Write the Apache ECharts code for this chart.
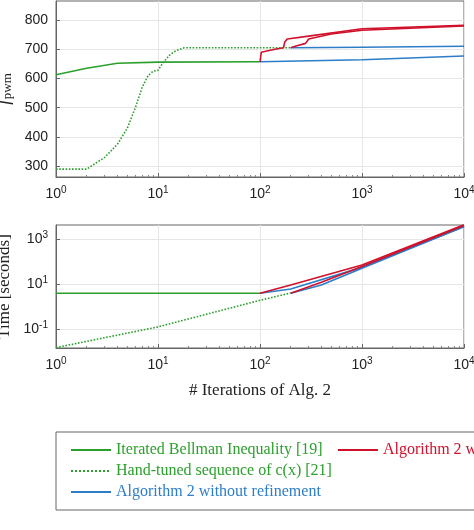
<!DOCTYPE html>
<html><head><meta charset="utf-8">
<script src="https://cdn.jsdelivr.net/npm/echarts@6/dist/echarts.min.js"></script>
<style>html,body{margin:0;padding:0;background:#fff}#c{width:474px;height:530px}</style>
</head><body><div id="c"></div>
<script>
// f_pwm per iteration
var fIterated = [[1, 613], [2, 635], [4, 652], [10, 656], [100, 657]];
var fHand = [[1, 290], [2, 290], [3, 330], [4, 375], [5, 430], [6, 500], [7, 570], [8, 610], [9, 625], [10, 628], [11, 650], [13, 680], [15, 695], [18, 705], [200, 705]];
var fBlueA = [[100, 657], [1000, 664], [10000, 677]];
var fBlueB = [[200, 705], [1000, 707], [10000, 710]];
var fRedA = [[100, 657], [103, 690], [120, 695], [140, 700], [170, 705], [175, 725], [185, 735], [300, 745], [1000, 770], [10000, 782]];
var fRedB = [[200, 705], [230, 712], [280, 720], [300, 735], [500, 752], [1000, 765], [10000, 780]];
// time per iteration
var tIterated = [[1, 3.9], [100, 3.9]];
var tHand = [[1, 0.015], [10, 0.125], [100, 1.9], [200, 4]];
var tBlueA = [[100, 3.9], [200, 6], [1000, 55], [10000, 3500]];
var tBlueB = [[200, 3.9], [400, 9], [1000, 50], [10000, 3600]];
var tRedA = [[100, 3.9], [200, 9], [1000, 70], [10000, 4300]];
var tRedB = [[200, 3.9], [400, 12], [1000, 60], [10000, 4000]];
var names = ['Iterated Bellman Inequality [19]', 'Hand-tuned sequence of c(x) [21]', 'Algorithm 2 without refinement', 'Algorithm 2 with refinement'];
var green = '#2ca02c', blue = '#2d7dc8', red = '#d0112b';

var sup = function (v) { return '10{s|' + Math.round(Math.log10(v)) + '}'; };
var tickFont = { fontFamily: 'Liberation Sans', fontSize: 14, color: '#222' };
var supRich = { s: { fontFamily: 'Liberation Sans', fontSize: 10, color: '#222', verticalAlign: 'top', padding: [0, 0, 8, 0] } };

function xAxis(i) {
  return {
    type: 'log', gridIndex: i, min: 1, max: 10000, logBase: 10,
    axisLine: { lineStyle: { color: '#666' } },
    axisTick: { inside: true, length: 4, lineStyle: { color: '#666' } },
    minorTick: { show: true, splitNumber: 9, length: 2, lineStyle: { color: '#888' } },
    splitLine: { show: true, lineStyle: { color: '#e6e6e6' } },
    axisLabel: Object.assign({ formatter: sup, margin: 8, rich: supRich }, tickFont),
    name: i === 1 ? '# Iterations of Alg. 2' : '', nameLocation: 'middle', nameGap: 34,
    nameTextStyle: { fontFamily: 'Liberation Serif', fontSize: 17, color: '#222' }
  };
}

function line(name, data, color, xi, dotted) {
  return {
    name: name, type: 'line', data: data, xAxisIndex: xi, yAxisIndex: xi,
    showSymbol: false, symbol: 'none', animation: false,
    lineStyle: { color: color, width: 1.6, type: dotted ? 'dotted' : 'solid' },
    itemStyle: { color: color }
  };
}

var chart = echarts.init(document.getElementById('c'));
chart.setOption({
  animation: false,
  grid: [
    { left: 56, right: 10, top: 1, height: 176, show: true, borderColor: '#666', outerBoundsMode: 'none' },
    { left: 56, right: 10, top: 225, height: 123, show: true, borderColor: '#666', outerBoundsMode: 'none' }
  ],
  xAxis: [xAxis(0), xAxis(1)],
  yAxis: [
    {
      type: 'value', gridIndex: 0, min: 263, max: 865,
      axisLine: { show: true, lineStyle: { color: '#666' } },
      axisTick: { show: true, inside: true, length: 4, customValues: [300, 400, 500, 600, 700, 800], lineStyle: { color: '#666' } },
      splitLine: { show: true, lineStyle: { color: '#e6e6e6' } },
      axisLabel: Object.assign({ customValues: [300, 400, 500, 600, 700, 800] }, tickFont),
      name: '{f|f}{s|pwm}', nameLocation: 'middle', nameGap: 38,
      nameTextStyle: { rich: { f: { fontFamily: 'Liberation Serif', fontStyle: 'italic', fontSize: 20, color: '#222' }, s: { fontFamily: 'Liberation Serif', fontSize: 13, color: '#222', padding: [8, 0, 0, 0] } } }
    },
    {
      type: 'log', gridIndex: 1, min: 0.0144, max: 4200, logBase: 10,
      axisLine: { show: true, lineStyle: { color: '#666' } },
      axisTick: { show: true, inside: true, length: 4, customValues: [0.1, 10, 1000], lineStyle: { color: '#666' } },
      splitLine: { show: true, lineStyle: { color: '#e6e6e6' } },
      axisLabel: Object.assign({ customValues: [0.1, 10, 1000], formatter: sup, rich: supRich }, tickFont),
      name: 'Time [seconds]', nameLocation: 'middle', nameGap: 40,
      nameTextStyle: { fontFamily: 'Liberation Serif', fontSize: 17, color: '#222' }
    }
  ],
  legend: {
    orient: 'vertical', left: 56, top: 432,
    padding: [10, 118, 10, 14], itemGap: 5, itemWidth: 40, itemHeight: 12,
    borderColor: '#666', borderWidth: 1,
    itemStyle: { opacity: 0 },
    data: names.map(function (n, i) {
      return { name: n, textStyle: { color: [green, green, blue, red][i] } };
    }),
    textStyle: { fontFamily: 'Liberation Serif', fontSize: 16 }
  },
  series: [
    line(names[0], fIterated, green, 0),
    line(names[1], fHand, green, 0, true),
    line(names[2], fBlueA, blue, 0),
    line(names[2], fBlueB, blue, 0),
    line(names[3], fRedA, red, 0),
    line(names[3], fRedB, red, 0),
    line(names[0], tIterated, green, 1),
    line(names[1], tHand, green, 1, true),
    line(names[2], tBlueA, blue, 1),
    line(names[2], tBlueB, blue, 1),
    line(names[3], tRedA, red, 1),
    line(names[3], tRedB, red, 1)
  ]
});
</script></body></html>
